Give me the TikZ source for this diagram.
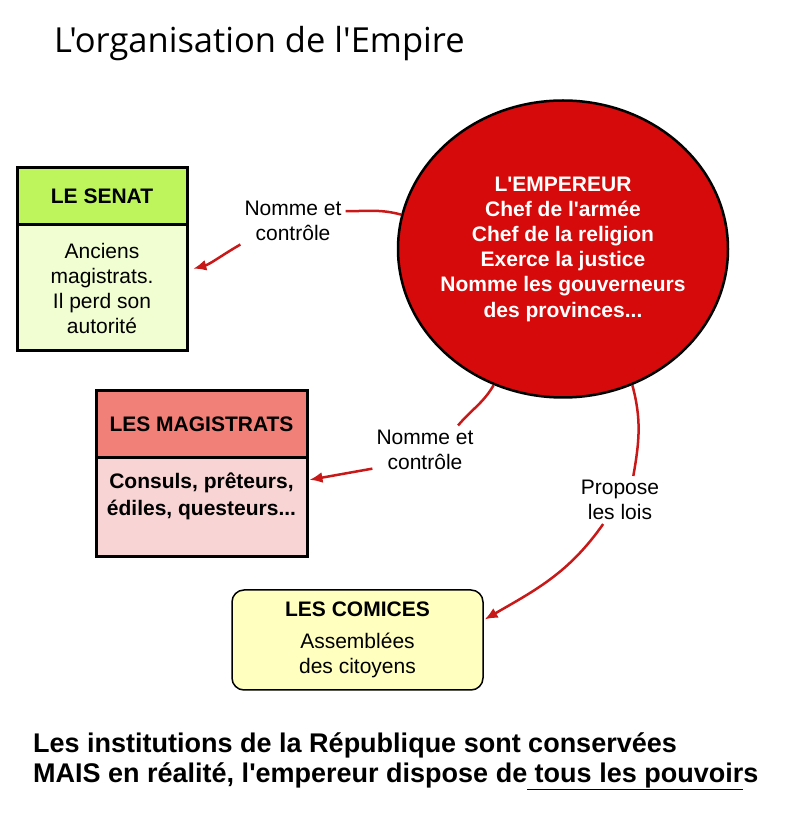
\documentclass[tikz,border=0pt]{standalone}
\usepackage{fontspec}
\setmainfont{Liberation Sans}[Ligatures=TeXOff]
\newfontfamily\titlefont{Open Sans}
\usetikzlibrary{arrows.meta,shapes.geometric}
\definecolor{senatgreen}{RGB}{190,245,92}
\definecolor{senatlight}{RGB}{240,254,210}
\definecolor{magsalmon}{RGB}{240,128,120}
\definecolor{magpink}{RGB}{248,212,212}
\definecolor{comyellow}{RGB}{255,255,192}
\definecolor{empred}{RGB}{214,10,10}
\definecolor{linkred}{RGB}{200,24,24}

\begin{document}
\begin{tikzpicture}[x=1pt, y=1pt,
	every node/.style={font=\fontsize{21}{25}\selectfont, align=center, inner sep=4pt},
	>={Latex[length=13pt, width=11pt]},
	head/.style={draw, line width=3pt, font=\fontsize{21}{25}\selectfont\bfseries},
	body/.style={draw, line width=3pt},
	link/.style={linkred, line width=2.5pt}]
	\useasboundingbox (0,0) rectangle (790,815);
	\node[anchor=west, font=\titlefont\fontsize{34.5}{40}\selectfont] (title) at (50,771) {L'organisation de l'Empire};
	% le senat
	\node[head, fill=senatgreen, minimum width=170, minimum height=57] (senathead) at (102,618.5) {LE SENAT};
	\node[body, fill=senatlight, minimum width=170, minimum height=126] (senatbody) at (102,527) {Anciens\\magistrats.\\Il perd son\\autorité};
	% les magistrats
	\node[head, fill=magsalmon, minimum width=211, minimum height=67] (maghead) at (201.5,390.5) {LES MAGISTRATS};
	\node[body, fill=magpink, minimum width=211, minimum height=99, font=\fontsize{21}{27}\selectfont\bfseries] (magbody) at (201.5,307.5) {Consuls, prêteurs,\\édiles, questeurs...\\\mbox{}};
	% les comices
	\node[draw, line width=1.5pt, rounded corners=12pt, fill=comyellow, minimum width=251, minimum height=100] (comices) at (357.5,175) {\textbf{LES COMICES}\\[7pt]Assemblées\\des citoyens};
	% l'empereur
	\node[ellipse, draw, line width=2.5pt, fill=empred, text=white, inner xsep=-12pt, inner ysep=0pt, minimum width=330, minimum height=297, font=\fontsize{21}{25.2}\selectfont\bfseries] (emp) at (563,566) {L'EMPEREUR\\Chef de l'armée\\Chef de la religion\\Exerce la justice\\Nomme les gouverneurs\\des provinces...};
	% liens
	\node (lab1) at (293,594.5) {Nomme et\\contrôle};
	\node (lab2) at (425,365.5) {Nomme et\\contrôle};
	\node (lab3) at (620,315) {Propose\\les lois};
	\draw[link] (emp.168) to[out=165, in=0] (lab1.10);
	\draw[link, ->, shorten >=5pt] (lab1.south west) to[out=-150, in=15] ([yshift=18pt]senatbody.east);
	\draw[link] (emp.243) to[out=-120, in=50] (lab2.36);
	\draw[link, ->, shorten >=1pt] (lab2.200) to[out=-170, in=10] ([yshift=27.5pt]magbody.east);
	\draw[link] (emp.297) to[out=-75, in=80] (lab3.61);
	\draw[link, ->, shorten >=1pt] (lab3.235) to[out=-125, in=30] ([yshift=20pt]comices.east);
	% conclusion
	\node[anchor=west, align=left, font=\fontsize{27}{30}\selectfont\bfseries] (concl) at (29,54) {Les institutions de la République sont conservées\\MAIS en réalité, l'empereur dispose de\underline{\ tous les pouvoir}s};
\end{tikzpicture}
\end{document}
